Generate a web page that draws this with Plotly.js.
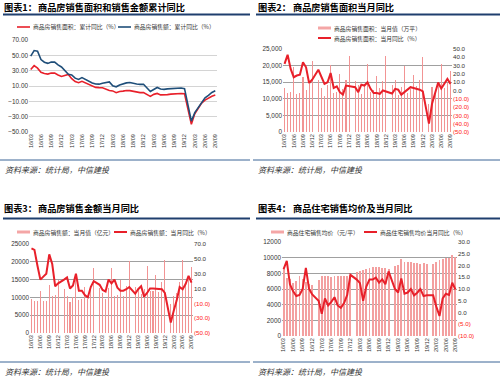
<!DOCTYPE html>
<html><head><meta charset="utf-8">
<script src="https://cdn.plot.ly/plotly-3.0.1.min.js"></script>
<style>html,body{margin:0;padding:0;background:#fff}#chart{width:500px;height:377px}</style>
</head><body><div id="chart"></div>
<script>
// ---------- categories ----------
const months = ["16/03","16/04","16/05","16/06","16/07","16/08","16/09","16/10","16/11","16/12",
 "17/01","17/02","17/03","17/04","17/05","17/06","17/07","17/08","17/09","17/10","17/11","17/12",
 "18/01","18/02","18/03","18/04","18/05","18/06","18/07","18/08","18/09","18/10","18/11","18/12",
 "19/01","19/02","19/03","19/04","19/05","19/06","19/07","19/08","19/09","19/10","19/11","19/12",
 "20/01","20/02","20/03","20/04","20/05","20/06","20/07","20/08","20/09"];
const tickLabels = ["16/03","16/06","16/09","16/12","17/03","17/06","17/09","17/12","18/03","18/06",
 "18/09","18/12","19/03","19/06","19/09","19/12","20/03","20/06","20/09"];

// ---------- chart 1: cumulative yoy (%) ----------
const areaCumYoY = [31.5,36.5,33.2,27.9,26.4,25.5,26.9,26.8,24.3,22.5,
 null,25.1,19.5,15.7,14.3,16.1,14.0,12.7,10.3,8.2,7.9,7.7,
 null,4.1,3.6,1.3,2.9,3.3,4.2,4.0,2.9,2.2,1.4,1.3,
 null,-3.6,-0.9,0.3,-1.6,-1.8,-1.3,-0.6,-0.1,0.1,0.2,-0.1,
 null,-39.9,-26.3,-19.3,-12.3,-8.4,-5.8,-3.3,-1.8];
const amountCumYoY = [49.0,56.2,55.5,44.5,41.0,39.5,41.3,41.2,37.5,34.8,
 null,25.4,24.5,20.2,18.6,21.0,18.3,15.6,14.0,12.6,12.4,13.7,
 null,15.3,10.2,9.0,11.4,13.2,14.1,14.5,13.3,12.5,12.1,12.2,
 null,2.8,5.6,8.1,6.1,5.6,6.2,6.7,7.1,7.3,7.3,6.5,
 null,-35.9,-24.7,-18.6,-11.6,-5.4,-2.1,1.6,3.7];

// ---------- chart 2: monthly sales area (万平) and yoy (%) ----------
const areaMonthly = [13300,11700,12000,19600,11400,11800,16600,12600,14400,21500,
 null,15700,13300,10900,14200,20100,11700,12200,17400,13100,15800,23000,
 null,15300,14200,11300,13900,20500,11900,12700,16800,13300,15300,23000,
 null,14100,15700,11100,13600,20000,11800,13100,17100,14000,15600,22600,
 null,8500,13500,12000,14800,20500,13300,14900,18500];
const areaMonthlyYoY = [32,43,26,16,18,19,34,28,9,13,
 null,25,16,8,10,21,3,5,-2,-5,6,5.5,
 null,4,-2,7,6,10,2,-3,-3,-4,0,-1,
 null,-3.6,2,1,-5,-2,1,4,3,2,1,-1,
 null,-39.9,-16,-4,9.7,2.5,9,14,8];

// ---------- chart 3: monthly sales amount (亿元) and yoy (%) ----------
const amountMonthly = [9600,9000,9100,11800,8900,9100,13600,10300,10800,15000,
 null,12300,10300,8800,10200,16000,9400,9600,13000,9600,12000,18200,
 null,12600,11200,9600,12600,18200,10400,10600,15000,10300,13300,20300,
 null,13000,12400,11000,12400,18800,11700,11800,16300,11500,14400,20500,
 null,8200,10500,11100,14200,20400,13700,15300,18500];
const amountMonthlyYoY = [64,62,41,22,26,30,56,43,13,17,
 null,22,25,10,14,30,7,7,1,-2,12,20,
 null,15,8,6,22,17,22,11,7,7,9,12,
 null,3,9,13,-1,4,10,10,10,10,9,4,
 null,-36,-20,-6,12,9,16,27,18];

// ---------- chart 4: residential average price (元/平) and yoy (%) ----------
const priceMonthly = [8600,7450,7230,6800,7000,7660,7300,6900,6700,6500,
 null,7200,7700,7650,7600,7550,7700,7650,7700,7600,7650,7750,
 null,8150,8300,8450,8550,8700,8750,8800,8800,8700,8650,8600,
 null,8950,9050,9800,9400,9450,9500,9350,9300,9250,9350,9250,
 null,9250,9500,9650,9800,9900,10000,10350,10100];
const priceYoY = [18.5,22,12,9,7,7.5,10,19,10,7.7,
 null,5,-0.5,6,3,4.5,6.5,3,2,4,7.5,16,
 null,14,12.5,5,11,14,14,14.8,12.7,14.1,12,17.5,
 null,10,8.5,14.5,8,8.5,10,7.3,8.4,10,7,7.3,
 null,7.3,2.5,-1.5,6,8,7.5,12.7,9.8];

// ---------- texts ----------
const titles = [
 ["图表1：","商品房销售面积和销售金额累计同比"],
 ["图表2：","商品房销售面积当月同比"],
 ["图表3：","商品房销售金额当月同比"],
 ["图表4：","商品住宅销售均价及当月同比"]];
const sourceText = "资料来源：统计局，中信建投";
const legendNames = {
 c1a:"商品房销售面积：累计同比（%）", c1b:"商品房销售额：累计同比（%）",
 c2a:"商品房销售面积：当月值（万平）", c2b:"商品房销售面积：当月同比（%）",
 c3a:"商品房销售额：当月值（亿元）", c3b:"商品房销售额：当月同比（%）",
 c4a:"商品住宅销售均价（元/平）", c4b:"商品住宅销售均价当月同比（%）"};

// ---------- styling ----------
const W = 500, H = 377;
const px = v => v / W, py = v => 1 - v / H;
const NUM = 'Liberation Sans, Arial, Noto Sans CJK SC, sans-serif';
const CJK = 'Noto Sans CJK SC, sans-serif';
const RED = '#E8202A', BLUE = '#1F4E79', PINK = '#F29494', PINK4 = '#F3A0A0', NAVY = '#1F3F6E';

function xax(d0, d1, anchor) {
  return {domain:[px(d0), px(d1)], anchor:anchor, type:'category', categoryorder:'array',
    categoryarray:months, range:[-0.5, 54.5], tickmode:'array', tickvals:tickLabels, ticktext:tickLabels,
    tickangle:-90, tickfont:{family:NUM, size:5.6, color:'#333'}, showgrid:false, zeroline:false,
    showline:false, ticks:'', fixedrange:true};
}
function yleft(top, bottom, anchor, range, dtick, fmt, grid) {
  return {domain:[py(bottom), py(top)], anchor:anchor, range:range, tick0:range[0], dtick:dtick, tickformat:fmt,
    tickfont:{family:NUM, size:6.4, color:'#333'}, gridcolor:grid, gridwidth:1, zeroline:false,
    showline:false, ticks:'', fixedrange:true};
}
function paren(v) {
  const s = Math.abs(v).toFixed(1);
  return v < 0 ? '<span style="color:#FF2020">(' + s + ')</span>' : s;
}
function yright(overlay, anchor, range, step) {
  const vals = [];
  for (let v = range[0]; v <= range[1] + 1e-9; v += step) vals.push(v);
  return {overlaying:overlay, side:'right', anchor:anchor, range:range, tickmode:'array',
    tickvals:vals, ticktext:vals.map(paren), tickfont:{family:NUM, size:6.2, color:'#333'},
    showgrid:false, zeroline:false, showline:false, ticks:'', fixedrange:true};
}

const traces = [
  {type:'scatter', mode:'lines', x:months, y:areaCumYoY, xaxis:'x', yaxis:'y', name:legendNames.c1a,
   line:{color:RED, width:1.6}, connectgaps:true},
  {type:'scatter', mode:'lines', x:months, y:amountCumYoY, xaxis:'x', yaxis:'y', name:legendNames.c1b,
   line:{color:BLUE, width:1.6}, connectgaps:true},
  {type:'bar', x:months, y:areaMonthly, xaxis:'x2', yaxis:'y2', name:legendNames.c2a,
   marker:{color:PINK}, width:0.35},
  {type:'scatter', mode:'lines', x:months, y:areaMonthlyYoY, xaxis:'x2', yaxis:'y5', name:legendNames.c2b,
   line:{color:RED, width:2}, connectgaps:true},
  {type:'bar', x:months, y:amountMonthly, xaxis:'x3', yaxis:'y3', name:legendNames.c3a,
   marker:{color:PINK}, width:0.35},
  {type:'scatter', mode:'lines', x:months, y:amountMonthlyYoY, xaxis:'x3', yaxis:'y6', name:legendNames.c3b,
   line:{color:RED, width:2}, connectgaps:true},
  {type:'bar', x:months, y:priceMonthly, xaxis:'x4', yaxis:'y4', name:legendNames.c4a,
   marker:{color:PINK4}, width:0.6},
  {type:'scatter', mode:'lines', x:months, y:priceYoY, xaxis:'x4', yaxis:'y7', name:legendNames.c4b,
   line:{color:RED, width:2}, connectgaps:true}
];

const annotations = [], shapes = [];
function txt(x, y, text, size, opts) {
  annotations.push(Object.assign({xref:'paper', yref:'paper', x:px(x), y:py(y), text:text,
    showarrow:false, xanchor:'left', yanchor:'middle', borderpad:0,
    font:{family:CJK, size:size, color:'#333'}}, opts || {}));
}
function hline(x0, x1, y, color, w) {
  shapes.push({type:'line', xref:'paper', yref:'paper', x0:px(x0), x1:px(x1), y0:py(y), y1:py(y),
    line:{color:color, width:w}});
}
// titles
const tpos = [[3, 37, 7], [257, 292, 7], [3, 37, 208.5], [257, 292, 208.5]];
titles.forEach((t, i) => {
  const [a, b, y] = tpos[i];
  txt(a, y, t[0], 9.2, {font:{family:CJK, size:9.2, color:'#000', weight:'bold'}});
  txt(b, y, t[1], 9.2, {font:{family:CJK, size:9.2, color:'#000', weight:'bold'}});
});
// separators
hline(3, 250, 14.5, NAVY, 2); hline(256, 500, 14.5, NAVY, 2);
hline(3, 250, 218.5, NAVY, 2); hline(256, 500, 218.5, NAVY, 2);
hline(0, 250, 160, '#3A6496', 1); hline(253, 500, 160, '#3A6496', 1);
hline(0, 250, 362, '#3A6496', 1); hline(253, 500, 362, '#3A6496', 1);
// sources
[[4,169],[257,169],[4,371],[257,371]].forEach(p =>
  txt(p[0], p[1], sourceText, 8, {font:{family:CJK, size:8, color:'#333', style:'italic'}}));
// legends
function leg(x, y, color, w, label) {
  hline(x, x + 13, y, color, w);
  txt(x + 15, y, label, 5.8);
}
leg(17, 27, RED, 1.6, legendNames.c1a);  leg(118, 27, BLUE, 1.6, legendNames.c1b);
leg(318, 28, '#F4A6A6', 3, legendNames.c2a); leg(318, 38, RED, 2, legendNames.c2b);
leg(17, 232, '#F4A6A6', 3, legendNames.c3a); leg(114, 232, RED, 2, legendNames.c3b);
leg(271, 232, '#F4A6A6', 3, legendNames.c4a); leg(364, 232, RED, 2, legendNames.c4b);

const layout = {
  width:W, height:H, margin:{l:0, r:0, t:0, b:0}, paper_bgcolor:'#fff', plot_bgcolor:'rgba(0,0,0,0)',
  showlegend:false, bargap:0,
  xaxis: xax(29, 217, 'y'),
  yaxis: yleft(40, 132, 'x', [-50, 70], 20, '.2f', '#D4D4D4'),
  xaxis2: xax(283, 452, 'y2'),
  yaxis2: yleft(49, 132, 'x2', [0, 25000], 5000, ',d', '#A0A0A0'),
  yaxis5: yright('y2', 'x2', [-50, 50], 10),
  xaxis3: xax(30, 193, 'y3'),
  yaxis3: yleft(244, 333, 'x3', [0, 25000], 5000, 'd', '#A0A0A0'),
  yaxis6: yright('y3', 'x3', [-50, 70], 20),
  xaxis4: xax(282, 457, 'y4'),
  yaxis4: yleft(242, 336, 'x4', [0, 12000], 2000, 'd', '#A0A0A0'),
  yaxis7: yright('y4', 'x4', [-10, 30], 5),
  annotations:annotations, shapes:shapes
};
Plotly.newPlot('chart', traces, layout, {staticPlot:true, displayModeBar:false});
</script></body></html>
